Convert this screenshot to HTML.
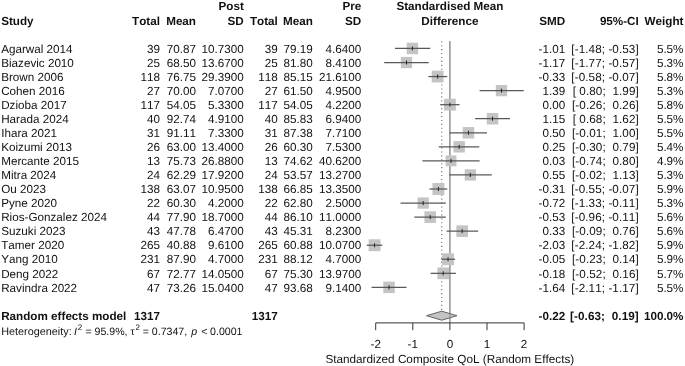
<!DOCTYPE html>
<html><head><meta charset="utf-8"><title>Forest plot</title>
<style>
html,body{margin:0;padding:0;background:#fff;}
svg{display:block;white-space:pre;font-kerning:none;text-rendering:geometricPrecision;font-family:"Liberation Sans",Arial,sans-serif;font-size:11.68px;fill:#111;}
</style></head><body>
<svg width="685" height="366" viewBox="0 0 685 366">
<rect width="685" height="366" fill="#fff"/>
<line x1="449.9" y1="40.894999999999996" x2="449.9" y2="322.9" stroke="#7c7c7c" stroke-width="1.25"/>
<line x1="441.74" y1="40.894999999999996" x2="441.74" y2="315.69" stroke="#6a6a6a" stroke-width="1.1" stroke-dasharray="1.1 2.835" stroke-dashoffset="-0.3"/>
<rect x="406.68" y="42.71" width="11.49" height="11.49" fill="#c4c4c4"/>
<line x1="394.99" y1="48.45" x2="430.24" y2="48.45" stroke="#585858" stroke-width="1.25"/>
<line x1="412.43" y1="46.45" x2="412.43" y2="50.45" stroke="#222" stroke-width="1"/>
<rect x="400.85" y="56.87" width="11.28" height="11.28" fill="#c4c4c4"/>
<line x1="384.23" y1="62.50" x2="428.75" y2="62.50" stroke="#585858" stroke-width="1.25"/>
<line x1="406.49" y1="60.50" x2="406.49" y2="64.50" stroke="#222" stroke-width="1"/>
<rect x="431.76" y="70.66" width="11.80" height="11.80" fill="#c4c4c4"/>
<line x1="428.38" y1="76.56" x2="447.30" y2="76.56" stroke="#585858" stroke-width="1.25"/>
<line x1="437.66" y1="74.56" x2="437.66" y2="78.56" stroke="#222" stroke-width="1"/>
<rect x="495.83" y="84.98" width="11.28" height="11.28" fill="#c4c4c4"/>
<line x1="479.58" y1="90.61" x2="523.73" y2="90.61" stroke="#585858" stroke-width="1.25"/>
<line x1="501.47" y1="88.61" x2="501.47" y2="92.61" stroke="#222" stroke-width="1"/>
<rect x="444.00" y="98.77" width="11.80" height="11.80" fill="#c4c4c4"/>
<line x1="440.25" y1="104.67" x2="459.55" y2="104.67" stroke="#585858" stroke-width="1.25"/>
<line x1="449.90" y1="102.67" x2="449.90" y2="106.67" stroke="#222" stroke-width="1"/>
<rect x="486.82" y="112.98" width="11.49" height="11.49" fill="#c4c4c4"/>
<line x1="475.13" y1="118.73" x2="510.00" y2="118.73" stroke="#585858" stroke-width="1.25"/>
<line x1="492.56" y1="116.73" x2="492.56" y2="120.73" stroke="#222" stroke-width="1"/>
<rect x="462.71" y="127.04" width="11.49" height="11.49" fill="#c4c4c4"/>
<line x1="449.53" y1="132.78" x2="487.00" y2="132.78" stroke="#585858" stroke-width="1.25"/>
<line x1="468.45" y1="130.78" x2="468.45" y2="134.78" stroke="#222" stroke-width="1"/>
<rect x="453.48" y="141.14" width="11.38" height="11.38" fill="#c4c4c4"/>
<line x1="438.77" y1="146.84" x2="479.21" y2="146.84" stroke="#585858" stroke-width="1.25"/>
<line x1="459.17" y1="144.84" x2="459.17" y2="148.84" stroke="#222" stroke-width="1"/>
<rect x="445.59" y="155.47" width="10.84" height="10.84" fill="#c4c4c4"/>
<line x1="422.45" y1="160.89" x2="479.58" y2="160.89" stroke="#585858" stroke-width="1.25"/>
<line x1="451.01" y1="158.89" x2="451.01" y2="162.89" stroke="#222" stroke-width="1"/>
<rect x="464.67" y="169.31" width="11.28" height="11.28" fill="#c4c4c4"/>
<line x1="449.16" y1="174.95" x2="491.82" y2="174.95" stroke="#585858" stroke-width="1.25"/>
<line x1="470.30" y1="172.95" x2="470.30" y2="176.95" stroke="#222" stroke-width="1"/>
<rect x="432.45" y="183.05" width="11.90" height="11.90" fill="#c4c4c4"/>
<line x1="429.50" y1="189.00" x2="447.30" y2="189.00" stroke="#585858" stroke-width="1.25"/>
<line x1="438.40" y1="187.00" x2="438.40" y2="191.00" stroke="#222" stroke-width="1"/>
<rect x="417.55" y="197.42" width="11.28" height="11.28" fill="#c4c4c4"/>
<line x1="400.56" y1="203.06" x2="445.82" y2="203.06" stroke="#585858" stroke-width="1.25"/>
<line x1="423.19" y1="201.06" x2="423.19" y2="205.06" stroke="#222" stroke-width="1"/>
<rect x="424.44" y="211.31" width="11.59" height="11.59" fill="#c4c4c4"/>
<line x1="414.28" y1="217.11" x2="445.82" y2="217.11" stroke="#585858" stroke-width="1.25"/>
<line x1="430.24" y1="215.11" x2="430.24" y2="219.11" stroke="#222" stroke-width="1"/>
<rect x="456.35" y="225.37" width="11.59" height="11.59" fill="#c4c4c4"/>
<line x1="446.56" y1="231.17" x2="478.10" y2="231.17" stroke="#585858" stroke-width="1.25"/>
<line x1="462.14" y1="229.17" x2="462.14" y2="233.17" stroke="#222" stroke-width="1"/>
<rect x="368.64" y="239.27" width="11.90" height="11.90" fill="#c4c4c4"/>
<line x1="366.80" y1="245.22" x2="382.38" y2="245.22" stroke="#585858" stroke-width="1.25"/>
<line x1="374.59" y1="243.22" x2="374.59" y2="247.22" stroke="#222" stroke-width="1"/>
<rect x="442.09" y="253.32" width="11.90" height="11.90" fill="#c4c4c4"/>
<line x1="441.37" y1="259.27" x2="455.09" y2="259.27" stroke="#585858" stroke-width="1.25"/>
<line x1="448.04" y1="257.27" x2="448.04" y2="261.27" stroke="#222" stroke-width="1"/>
<rect x="437.37" y="267.48" width="11.70" height="11.70" fill="#c4c4c4"/>
<line x1="430.61" y1="273.33" x2="455.84" y2="273.33" stroke="#585858" stroke-width="1.25"/>
<line x1="443.22" y1="271.33" x2="443.22" y2="275.33" stroke="#222" stroke-width="1"/>
<rect x="383.31" y="281.64" width="11.49" height="11.49" fill="#c4c4c4"/>
<line x1="371.62" y1="287.38" x2="406.49" y2="287.38" stroke="#585858" stroke-width="1.25"/>
<line x1="389.06" y1="285.38" x2="389.06" y2="289.38" stroke="#222" stroke-width="1"/>
<polygon points="426.53,315.69 441.74,311.19 456.95,315.69 441.74,320.19" fill="#c4c4c4" stroke="#444" stroke-width="0.8"/>
<line x1="449.9" y1="313.69" x2="449.9" y2="317.69" stroke="#969696" stroke-width="1.25"/>
<line x1="375.70" y1="322.9" x2="524.10" y2="322.9" stroke="#333" stroke-width="1"/>
<line x1="375.70" y1="322.9" x2="375.70" y2="330.2" stroke="#333" stroke-width="1"/>
<line x1="412.80" y1="322.9" x2="412.80" y2="330.2" stroke="#333" stroke-width="1"/>
<line x1="449.90" y1="322.9" x2="449.90" y2="330.2" stroke="#333" stroke-width="1"/>
<line x1="487.00" y1="322.9" x2="487.00" y2="330.2" stroke="#333" stroke-width="1"/>
<line x1="524.10" y1="322.9" x2="524.10" y2="330.2" stroke="#333" stroke-width="1"/>
<text x="243.8" y="10.20" text-anchor="end" font-weight="bold">Post</text>
<text x="361.3" y="10.20" text-anchor="end" font-weight="bold">Pre</text>
<text x="449.9" y="10.20" text-anchor="middle" font-weight="bold">Standardised Mean</text>
<text x="449.9" y="24.80" text-anchor="middle" font-weight="bold">Difference</text>
<text x="1.2" y="24.80" text-anchor="start" font-weight="bold">Study</text>
<text x="160.0" y="24.80" text-anchor="end" font-weight="bold">Total</text>
<text x="196" y="24.80" text-anchor="end" font-weight="bold">Mean</text>
<text x="243.8" y="24.80" text-anchor="end" font-weight="bold">SD</text>
<text x="277.8" y="24.80" text-anchor="end" font-weight="bold">Total</text>
<text x="312.8" y="24.80" text-anchor="end" font-weight="bold">Mean</text>
<text x="361.3" y="24.80" text-anchor="end" font-weight="bold">SD</text>
<text x="565.2" y="24.80" text-anchor="end" font-weight="bold">SMD</text>
<text x="638.8" y="24.80" text-anchor="end" font-weight="bold">95%-CI</text>
<text x="683.5" y="24.80" text-anchor="end" font-weight="bold">Weight</text>
<text x="1.2" y="52.65" text-anchor="start">Agarwal 2014</text>
<text x="160.0" y="52.65" text-anchor="end">39</text>
<text x="196" y="52.65" text-anchor="end">70.87</text>
<text x="243.8" y="52.65" text-anchor="end">10.7300</text>
<text x="277.8" y="52.65" text-anchor="end">39</text>
<text x="312.8" y="52.65" text-anchor="end">79.19</text>
<text x="361.3" y="52.65" text-anchor="end">4.6400</text>
<text x="565.2" y="52.65" text-anchor="end">-1.01</text>
<text x="638.8" y="52.65" text-anchor="end" xml:space="preserve" letter-spacing="0.09">[-1.48; -0.53]</text>
<text x="683.5" y="52.65" text-anchor="end">5.5%</text>
<text x="1.2" y="66.70" text-anchor="start">Biazevic 2010</text>
<text x="160.0" y="66.70" text-anchor="end">25</text>
<text x="196" y="66.70" text-anchor="end">68.50</text>
<text x="243.8" y="66.70" text-anchor="end">13.6700</text>
<text x="277.8" y="66.70" text-anchor="end">25</text>
<text x="312.8" y="66.70" text-anchor="end">81.80</text>
<text x="361.3" y="66.70" text-anchor="end">8.4100</text>
<text x="565.2" y="66.70" text-anchor="end">-1.17</text>
<text x="638.8" y="66.70" text-anchor="end" xml:space="preserve" letter-spacing="0.09">[-1.77; -0.57]</text>
<text x="683.5" y="66.70" text-anchor="end">5.3%</text>
<text x="1.2" y="80.76" text-anchor="start">Brown 2006</text>
<text x="160.0" y="80.76" text-anchor="end">118</text>
<text x="196" y="80.76" text-anchor="end">76.75</text>
<text x="243.8" y="80.76" text-anchor="end">29.3900</text>
<text x="277.8" y="80.76" text-anchor="end">118</text>
<text x="312.8" y="80.76" text-anchor="end">85.15</text>
<text x="361.3" y="80.76" text-anchor="end">21.6100</text>
<text x="565.2" y="80.76" text-anchor="end">-0.33</text>
<text x="638.8" y="80.76" text-anchor="end" xml:space="preserve" letter-spacing="0.09">[-0.58; -0.07]</text>
<text x="683.5" y="80.76" text-anchor="end">5.8%</text>
<text x="1.2" y="94.81" text-anchor="start">Cohen 2016</text>
<text x="160.0" y="94.81" text-anchor="end">27</text>
<text x="196" y="94.81" text-anchor="end">70.00</text>
<text x="243.8" y="94.81" text-anchor="end">7.0700</text>
<text x="277.8" y="94.81" text-anchor="end">27</text>
<text x="312.8" y="94.81" text-anchor="end">61.50</text>
<text x="361.3" y="94.81" text-anchor="end">4.9500</text>
<text x="565.2" y="94.81" text-anchor="end">1.39</text>
<text x="638.8" y="94.81" text-anchor="end" xml:space="preserve" letter-spacing="0.09">[ 0.80;  1.99]</text>
<text x="683.5" y="94.81" text-anchor="end">5.3%</text>
<text x="1.2" y="108.87" text-anchor="start">Dzioba 2017</text>
<text x="160.0" y="108.87" text-anchor="end">117</text>
<text x="196" y="108.87" text-anchor="end">54.05</text>
<text x="243.8" y="108.87" text-anchor="end">5.3300</text>
<text x="277.8" y="108.87" text-anchor="end">117</text>
<text x="312.8" y="108.87" text-anchor="end">54.05</text>
<text x="361.3" y="108.87" text-anchor="end">4.2200</text>
<text x="565.2" y="108.87" text-anchor="end">0.00</text>
<text x="638.8" y="108.87" text-anchor="end" xml:space="preserve" letter-spacing="0.09">[-0.26;  0.26]</text>
<text x="683.5" y="108.87" text-anchor="end">5.8%</text>
<text x="1.2" y="122.93" text-anchor="start">Harada 2024</text>
<text x="160.0" y="122.93" text-anchor="end">40</text>
<text x="196" y="122.93" text-anchor="end">92.74</text>
<text x="243.8" y="122.93" text-anchor="end">4.9100</text>
<text x="277.8" y="122.93" text-anchor="end">40</text>
<text x="312.8" y="122.93" text-anchor="end">85.83</text>
<text x="361.3" y="122.93" text-anchor="end">6.9400</text>
<text x="565.2" y="122.93" text-anchor="end">1.15</text>
<text x="638.8" y="122.93" text-anchor="end" xml:space="preserve" letter-spacing="0.09">[ 0.68;  1.62]</text>
<text x="683.5" y="122.93" text-anchor="end">5.5%</text>
<text x="1.2" y="136.98" text-anchor="start">Ihara 2021</text>
<text x="160.0" y="136.98" text-anchor="end">31</text>
<text x="196" y="136.98" text-anchor="end">91.11</text>
<text x="243.8" y="136.98" text-anchor="end">7.3300</text>
<text x="277.8" y="136.98" text-anchor="end">31</text>
<text x="312.8" y="136.98" text-anchor="end">87.38</text>
<text x="361.3" y="136.98" text-anchor="end">7.7100</text>
<text x="565.2" y="136.98" text-anchor="end">0.50</text>
<text x="638.8" y="136.98" text-anchor="end" xml:space="preserve" letter-spacing="0.09">[-0.01;  1.00]</text>
<text x="683.5" y="136.98" text-anchor="end">5.5%</text>
<text x="1.2" y="151.03" text-anchor="start">Koizumi 2013</text>
<text x="160.0" y="151.03" text-anchor="end">26</text>
<text x="196" y="151.03" text-anchor="end">63.00</text>
<text x="243.8" y="151.03" text-anchor="end">13.4000</text>
<text x="277.8" y="151.03" text-anchor="end">26</text>
<text x="312.8" y="151.03" text-anchor="end">60.30</text>
<text x="361.3" y="151.03" text-anchor="end">7.5300</text>
<text x="565.2" y="151.03" text-anchor="end">0.25</text>
<text x="638.8" y="151.03" text-anchor="end" xml:space="preserve" letter-spacing="0.09">[-0.30;  0.79]</text>
<text x="683.5" y="151.03" text-anchor="end">5.4%</text>
<text x="1.2" y="165.09" text-anchor="start">Mercante 2015</text>
<text x="160.0" y="165.09" text-anchor="end">13</text>
<text x="196" y="165.09" text-anchor="end">75.73</text>
<text x="243.8" y="165.09" text-anchor="end">26.8800</text>
<text x="277.8" y="165.09" text-anchor="end">13</text>
<text x="312.8" y="165.09" text-anchor="end">74.62</text>
<text x="361.3" y="165.09" text-anchor="end">40.6200</text>
<text x="565.2" y="165.09" text-anchor="end">0.03</text>
<text x="638.8" y="165.09" text-anchor="end" xml:space="preserve" letter-spacing="0.09">[-0.74;  0.80]</text>
<text x="683.5" y="165.09" text-anchor="end">4.9%</text>
<text x="1.2" y="179.15" text-anchor="start">Mitra 2024</text>
<text x="160.0" y="179.15" text-anchor="end">24</text>
<text x="196" y="179.15" text-anchor="end">62.29</text>
<text x="243.8" y="179.15" text-anchor="end">17.9200</text>
<text x="277.8" y="179.15" text-anchor="end">24</text>
<text x="312.8" y="179.15" text-anchor="end">53.57</text>
<text x="361.3" y="179.15" text-anchor="end">13.2700</text>
<text x="565.2" y="179.15" text-anchor="end">0.55</text>
<text x="638.8" y="179.15" text-anchor="end" xml:space="preserve" letter-spacing="0.09">[-0.02;  1.13]</text>
<text x="683.5" y="179.15" text-anchor="end">5.3%</text>
<text x="1.2" y="193.20" text-anchor="start">Ou 2023</text>
<text x="160.0" y="193.20" text-anchor="end">138</text>
<text x="196" y="193.20" text-anchor="end">63.07</text>
<text x="243.8" y="193.20" text-anchor="end">10.9500</text>
<text x="277.8" y="193.20" text-anchor="end">138</text>
<text x="312.8" y="193.20" text-anchor="end">66.85</text>
<text x="361.3" y="193.20" text-anchor="end">13.3500</text>
<text x="565.2" y="193.20" text-anchor="end">-0.31</text>
<text x="638.8" y="193.20" text-anchor="end" xml:space="preserve" letter-spacing="0.09">[-0.55; -0.07]</text>
<text x="683.5" y="193.20" text-anchor="end">5.9%</text>
<text x="1.2" y="207.25" text-anchor="start">Pyne 2020</text>
<text x="160.0" y="207.25" text-anchor="end">22</text>
<text x="196" y="207.25" text-anchor="end">60.30</text>
<text x="243.8" y="207.25" text-anchor="end">4.2000</text>
<text x="277.8" y="207.25" text-anchor="end">22</text>
<text x="312.8" y="207.25" text-anchor="end">62.80</text>
<text x="361.3" y="207.25" text-anchor="end">2.5000</text>
<text x="565.2" y="207.25" text-anchor="end">-0.72</text>
<text x="638.8" y="207.25" text-anchor="end" xml:space="preserve" letter-spacing="0.09">[-1.33; -0.11]</text>
<text x="683.5" y="207.25" text-anchor="end">5.3%</text>
<text x="1.2" y="221.31" text-anchor="start">Rios-Gonzalez 2024</text>
<text x="160.0" y="221.31" text-anchor="end">44</text>
<text x="196" y="221.31" text-anchor="end">77.90</text>
<text x="243.8" y="221.31" text-anchor="end">18.7000</text>
<text x="277.8" y="221.31" text-anchor="end">44</text>
<text x="312.8" y="221.31" text-anchor="end">86.10</text>
<text x="361.3" y="221.31" text-anchor="end">11.0000</text>
<text x="565.2" y="221.31" text-anchor="end">-0.53</text>
<text x="638.8" y="221.31" text-anchor="end" xml:space="preserve" letter-spacing="0.09">[-0.96; -0.11]</text>
<text x="683.5" y="221.31" text-anchor="end">5.6%</text>
<text x="1.2" y="235.37" text-anchor="start">Suzuki 2023</text>
<text x="160.0" y="235.37" text-anchor="end">43</text>
<text x="196" y="235.37" text-anchor="end">47.78</text>
<text x="243.8" y="235.37" text-anchor="end">6.4700</text>
<text x="277.8" y="235.37" text-anchor="end">43</text>
<text x="312.8" y="235.37" text-anchor="end">45.31</text>
<text x="361.3" y="235.37" text-anchor="end">8.2300</text>
<text x="565.2" y="235.37" text-anchor="end">0.33</text>
<text x="638.8" y="235.37" text-anchor="end" xml:space="preserve" letter-spacing="0.09">[-0.09;  0.76]</text>
<text x="683.5" y="235.37" text-anchor="end">5.6%</text>
<text x="1.2" y="249.42" text-anchor="start">Tamer 2020</text>
<text x="160.0" y="249.42" text-anchor="end">265</text>
<text x="196" y="249.42" text-anchor="end">40.88</text>
<text x="243.8" y="249.42" text-anchor="end">9.6100</text>
<text x="277.8" y="249.42" text-anchor="end">265</text>
<text x="312.8" y="249.42" text-anchor="end">60.88</text>
<text x="361.3" y="249.42" text-anchor="end">10.0700</text>
<text x="565.2" y="249.42" text-anchor="end">-2.03</text>
<text x="638.8" y="249.42" text-anchor="end" xml:space="preserve" letter-spacing="0.09">[-2.24; -1.82]</text>
<text x="683.5" y="249.42" text-anchor="end">5.9%</text>
<text x="1.2" y="263.47" text-anchor="start">Yang 2010</text>
<text x="160.0" y="263.47" text-anchor="end">231</text>
<text x="196" y="263.47" text-anchor="end">87.90</text>
<text x="243.8" y="263.47" text-anchor="end">4.7000</text>
<text x="277.8" y="263.47" text-anchor="end">231</text>
<text x="312.8" y="263.47" text-anchor="end">88.12</text>
<text x="361.3" y="263.47" text-anchor="end">4.7000</text>
<text x="565.2" y="263.47" text-anchor="end">-0.05</text>
<text x="638.8" y="263.47" text-anchor="end" xml:space="preserve" letter-spacing="0.09">[-0.23;  0.14]</text>
<text x="683.5" y="263.47" text-anchor="end">5.9%</text>
<text x="1.2" y="277.53" text-anchor="start">Deng 2022</text>
<text x="160.0" y="277.53" text-anchor="end">67</text>
<text x="196" y="277.53" text-anchor="end">72.77</text>
<text x="243.8" y="277.53" text-anchor="end">14.0500</text>
<text x="277.8" y="277.53" text-anchor="end">67</text>
<text x="312.8" y="277.53" text-anchor="end">75.30</text>
<text x="361.3" y="277.53" text-anchor="end">13.9700</text>
<text x="565.2" y="277.53" text-anchor="end">-0.18</text>
<text x="638.8" y="277.53" text-anchor="end" xml:space="preserve" letter-spacing="0.09">[-0.52;  0.16]</text>
<text x="683.5" y="277.53" text-anchor="end">5.7%</text>
<text x="1.2" y="291.58" text-anchor="start">Ravindra 2022</text>
<text x="160.0" y="291.58" text-anchor="end">47</text>
<text x="196" y="291.58" text-anchor="end">73.26</text>
<text x="243.8" y="291.58" text-anchor="end">15.0400</text>
<text x="277.8" y="291.58" text-anchor="end">47</text>
<text x="312.8" y="291.58" text-anchor="end">93.68</text>
<text x="361.3" y="291.58" text-anchor="end">9.1400</text>
<text x="565.2" y="291.58" text-anchor="end">-1.64</text>
<text x="638.8" y="291.58" text-anchor="end" xml:space="preserve" letter-spacing="0.09">[-2.11; -1.17]</text>
<text x="683.5" y="291.58" text-anchor="end">5.5%</text>
<text x="1.2" y="319.69" text-anchor="start" font-weight="bold">Random effects model</text>
<text x="160.0" y="319.69" text-anchor="end" font-weight="bold">1317</text>
<text x="277.8" y="319.69" text-anchor="end" font-weight="bold">1317</text>
<text x="565.2" y="319.69" text-anchor="end" font-weight="bold">-0.22</text>
<text x="638.8" y="319.69" text-anchor="end" font-weight="bold" xml:space="preserve" letter-spacing="0.09">[-0.63;  0.19]</text>
<text x="683.5" y="319.69" text-anchor="end" font-weight="bold">100.0%</text>
<text x="1.2" y="334.59" font-size="10.85" text-anchor="start">Heterogeneity:</text>
<text x="74.0" y="334.59" font-size="10.6" text-anchor="start" font-style="italic">I</text>
<text x="77.7" y="329.59" font-size="8.0" text-anchor="start">2</text>
<text x="85.4" y="334.59" font-size="10.6" text-anchor="start">= 95.9%,</text>
<text x="130.4" y="334.59" font-size="10.6" text-anchor="start">τ</text>
<text x="135.4" y="329.59" font-size="8.0" text-anchor="start">2</text>
<text x="142.7" y="334.59" font-size="10.6" text-anchor="start">= 0.7347,</text>
<text x="191.2" y="334.59" font-size="10.6" text-anchor="start" font-style="italic">p</text>
<text x="201.3" y="334.59" font-size="10.6" text-anchor="start">&lt;</text>
<text x="242.5" y="334.59" font-size="10.6" text-anchor="end">0.0001</text>
<text x="375.7" y="348.40" text-anchor="middle">-2</text>
<text x="412.79999999999995" y="348.40" text-anchor="middle">-1</text>
<text x="449.9" y="348.40" text-anchor="middle">0</text>
<text x="487.0" y="348.40" text-anchor="middle">1</text>
<text x="524.1" y="348.40" text-anchor="middle">2</text>
<text x="449.79999999999995" y="362.50" text-anchor="middle" font-size="11.76">Standardized Composite QoL (Random Effects)</text>
</svg>
</body></html>
